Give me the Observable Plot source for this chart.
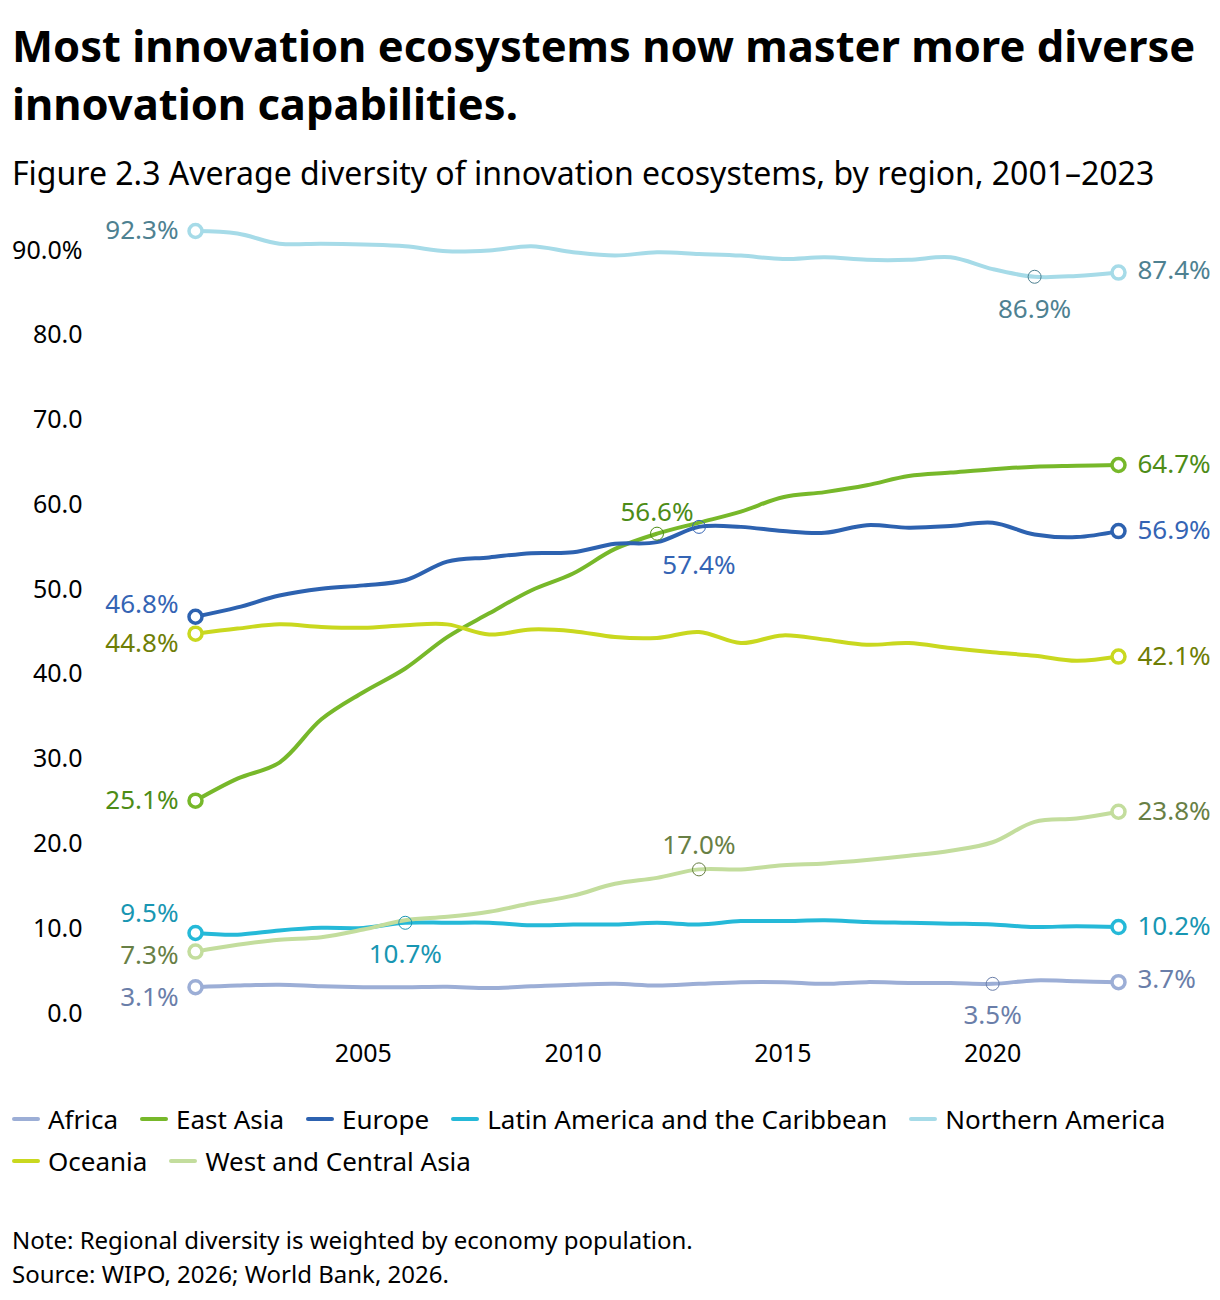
<!DOCTYPE html>
<html>
<head>
<meta charset="utf-8">
<script src="https://cdn.jsdelivr.net/npm/d3@7"></script>
<script src="https://cdn.jsdelivr.net/npm/@observablehq/plot@0.6"></script>
<style>
  body { margin: 0; background: #fff; font-family: "Noto Sans", sans-serif; color: #000; }
  #wrap { width: 1220px; }
  h1 { margin: 0; padding: 16px 0 0 12px; font-size: 43.5px; line-height: 58px; font-weight: 700; }
  .sub { margin: 21px 0 0 12px; font-size: 32px; line-height: 40px; }
  #chart { margin-top: 7px; height: 880px; }
  #chart svg { display: block; }
  .legend { display: flex; flex-wrap: wrap; padding: 0 12px; margin-top: 18px; font-size: 26px; line-height: 42px; column-gap: 22px; }
  .item { display: flex; align-items: center; }
  .sw { width: 28px; height: 4px; border-radius: 2px; margin-right: 8px; }
  .note { margin: 41px 0 0 12px; font-size: 24px; line-height: 34px; }
</style>
</head>
<body>
<div id="wrap">
  <h1>Most innovation ecosystems now master more diverse innovation capabilities.</h1>
  <div class="sub">Figure 2.3 Average diversity of innovation ecosystems, by region, 2001–2023</div>
  <div id="chart"></div>
  <div class="legend" id="legend"></div>
  <div class="note">Note: Regional diversity is weighted by economy population.<br>Source: WIPO, 2026; World Bank, 2026.</div>
</div>
<script>
// ---- data ----
const years = [2001,2002,2003,2004,2005,2006,2007,2008,2009,2010,2011,2012,2013,2014,2015,2016,2017,2018,2019,2020,2021,2022,2023];
const regions = ["Africa","East Asia","Europe","Latin America and the Caribbean","Northern America","Oceania","West and Central Asia"];
const africa          = [3.1,3.3,3.4,3.2,3.1,3.1,3.15,3.0,3.2,3.4,3.5,3.3,3.5,3.7,3.7,3.5,3.7,3.6,3.6,3.5,3.9,3.8,3.7];
const eastAsia        = [25.1,27.7,29.6,34.7,37.9,40.7,44.4,47.2,49.9,51.9,54.8,56.6,57.9,59.2,60.9,61.5,62.3,63.4,63.8,64.2,64.5,64.6,64.7];
const europe          = [46.8,47.9,49.3,50.1,50.5,51.1,53.3,53.8,54.3,54.4,55.4,55.6,57.4,57.4,56.9,56.7,57.6,57.3,57.5,57.9,56.5,56.2,56.9];
const latinAmerica    = [9.5,9.3,9.8,10.1,10.1,10.7,10.7,10.7,10.4,10.5,10.5,10.7,10.5,10.9,10.9,11.0,10.8,10.7,10.6,10.5,10.2,10.3,10.2];
const northernAmerica = [92.3,92.0,90.8,90.8,90.7,90.5,89.9,90.0,90.5,89.8,89.4,89.8,89.6,89.4,89.0,89.2,88.9,88.9,89.2,87.8,86.9,87.0,87.4];
const oceania         = [44.8,45.4,45.9,45.6,45.5,45.8,45.9,44.7,45.3,45.1,44.4,44.3,45.0,43.7,44.6,44.1,43.5,43.7,43.1,42.6,42.2,41.6,42.1];
const westCentralAsia = [7.3,8.1,8.7,9.0,9.9,11.0,11.4,12.0,13.0,13.9,15.3,16.0,17.0,17.0,17.5,17.7,18.1,18.6,19.2,20.2,22.6,23.0,23.8];
const seriesValues = [africa, eastAsia, europe, latinAmerica, northernAmerica, oceania, westCentralAsia];
// highlighted (annotated) year per region
const annotatedYears = [2020, 2012, 2013, 2006, 2021, null, 2013];
const yTicks = [0,10,20,30,40,50,60,70,80,90];
const xTicks = [2005,2010,2015,2020];

// ---- styles ----
const lineColors  = ["#9caed6","#77b82a","#2d62b0","#25b9d8","#a6dbe8","#c9d81f","#c3dd9d"];
const labelColors = ["#6a7ea9","#4d8c16","#3464b4","#1896b2","#4e8191","#6e7e05","#687f45"];
const startDy = [10, 0, -12, -19, 0, 10, 4];
const endDy   = [-2, 0, 0, 0, -2, 0, 0];
const annDy   = [32, -21, 39, 32, 33, 0, -24];

const rows = regions.flatMap((r, i) => years.map((y, j) => ({region: r, year: y, value: seriesValues[i][j]})));
const fmt = d => d.value.toFixed(1) + "%";

const marks = [
  Plot.axisY({ticks: yTicks, tickSize: 0, tickPadding: 113, fontSize: 25, fill: "#000", label: null,
    tickFormat: d => d === 90 ? "90.0%" : d.toFixed(1)}),
  Plot.axisX({ticks: xTicks, tickSize: 0, tickPadding: 31, fontSize: 25, fill: "#000", label: null, tickFormat: d => String(d)}),
  Plot.line(rows, {x: "year", y: "value", z: "region", stroke: "region", strokeWidth: 4, curve: "catmull-rom"})
];
regions.forEach((r, i) => {
  const sr = rows.filter(d => d.region === r);
  const first = sr.filter(d => d.year === years[0]);
  const last = sr.filter(d => d.year === years[years.length - 1]);
  const ann = sr.filter(d => d.year === annotatedYears[i]);
  marks.push(
    Plot.dot(first.concat(last), {x: "year", y: "value", r: 6.5, fill: "#fff", stroke: lineColors[i], strokeWidth: 3.5}),
    Plot.text(first, {x: "year", y: "value", text: fmt, textAnchor: "end", dx: -17, dy: startDy[i], fill: labelColors[i], fontSize: 26}),
    Plot.text(last, {x: "year", y: "value", text: fmt, textAnchor: "start", dx: 19, dy: endDy[i], fill: labelColors[i], fontSize: 26}),
    Plot.dot(ann, {x: "year", y: "value", r: 6.5, fill: "none", stroke: labelColors[i], strokeWidth: 1}),
    Plot.text(ann, {x: "year", y: "value", text: fmt, textAnchor: "middle", dy: annDy[i], fill: labelColors[i], fontSize: 26})
  );
});

const chart = Plot.plot({
  width: 1220, height: 880,
  marginLeft: 195, marginRight: 102, marginTop: 50, marginBottom: 67,
  style: {fontFamily: "Noto Sans", fontSize: "25px", background: "#fff", overflow: "visible"},
  x: {domain: [2001, 2023], label: null},
  y: {domain: [0, 90], label: null},
  color: {domain: regions, range: lineColors},
  marks
});
document.getElementById("chart").append(chart);

const legend = document.getElementById("legend");
regions.forEach((r, i) => {
  const it = document.createElement("div");
  it.className = "item";
  it.innerHTML = `<span class="sw" style="background:${lineColors[i]}"></span><span>${r}</span>`;
  legend.append(it);
});
</script>
</body>
</html>
